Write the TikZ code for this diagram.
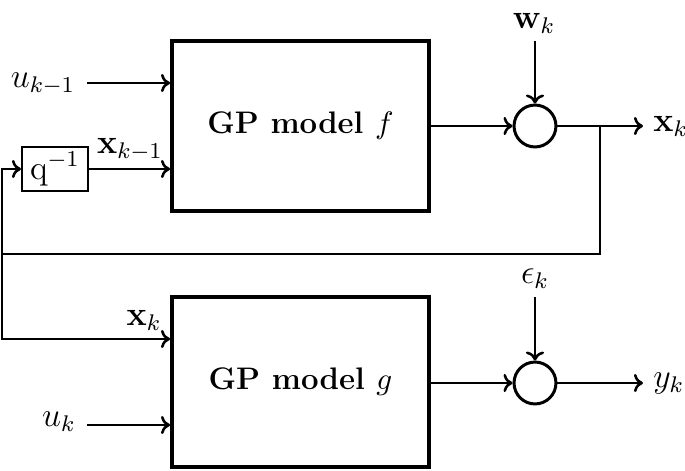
\documentclass[tikz,border=0pt]{standalone}
\usetikzlibrary{arrows.meta}
\begin{document}
\begin{tikzpicture}[x=0.353pt,y=-0.353pt,
  blk/.style={draw,line width=1.4pt,minimum width=90.7pt,minimum height=60pt,inner sep=0pt,font=\fontsize{11}{13}\selectfont\bfseries},
  dly/.style={draw,line width=0.7pt,minimum width=23.3pt,minimum height=15.5pt,inner sep=0pt,font=\large},
  sumc/.style={draw,circle,line width=1.05pt,minimum size=14.8pt,inner sep=0pt},
  wire/.style={line width=0.9pt},
  arr/.style={wire,-{To[length=3.2pt,width=6.4pt]}},
  lbl/.style={inner sep=1pt,font=\large}]
\useasboundingbox (0,0) rectangle (685,470);
% blocks
\node[blk] (f) at (300.5,126) {GP model $f$};
\node[blk] (g) at (300.5,382) {GP model $g$};
\node[dly] (q) at (55,169) {$\mathrm{q}^{-1}$};
\node[sumc] (s1) at (535,126) {};
\node[sumc] (s2) at (535,383) {};
% labels
\node[lbl] (u1) at (43,84) {$u_{k-1}$};
\node[lbl] (xkm) at (130,150) {$\mathbf{x}_{k-1}$};
\node[lbl] (xkb) at (144,320) {$\mathbf{x}_k$};
\node[lbl] (u0) at (59,422) {$u_k$};
\node[lbl] (wk) at (534,23) {$\mathbf{w}_k$};
\node[lbl] (ek) at (535,279) {$\epsilon_k$};
\node[lbl,anchor=west] (xko) at (650,126) {$\mathbf{x}_k$};
\node[lbl,anchor=west] (yko) at (650,383) {$y_k$};
% coordinates
\coordinate (u1s) at (87,83);
\coordinate (u0s) at (87,425);
\coordinate (ws) at (535,41);
\coordinate (es) at (535,297);
\coordinate (o1) at (643,126);
\coordinate (o2) at (643,383);
\coordinate (br) at (600,126);
\coordinate (lft) at (2,254);
\coordinate (gx) at (172,339);
% connectors
\draw[arr] (u1s) -- (u1s -| f.west);
\draw[arr] (q.east) -- (q.east -| f.west);
\draw[arr] (u0s) -- (u0s -| g.west);
\draw[arr] (ws) -- (s1.north);
\draw[arr] (es) -- (s2.north);
\draw[arr] (f.east) -- (s1.west);
\draw[arr] (g.east |- s2) -- (s2.west);
\draw[arr] (s1.east) -- (o1);
\draw[arr] (s2.east) -- (o2);
\draw[wire] (br) |- (lft);
\draw[arr] (lft) |- (q.west);
\draw[arr] (lft) |- (gx -| g.west);
\end{tikzpicture}
\end{document}
